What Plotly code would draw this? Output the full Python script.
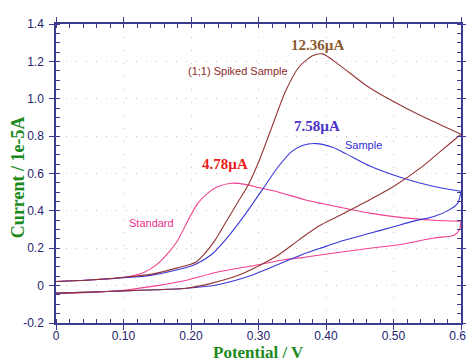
import plotly.graph_objects as go

# ---- data (potential in V, current in 1e-5 A) ----
spiked_fwd_x = [0, 0.05, 0.10, 0.14, 0.18, 0.207, 0.22, 0.236, 0.25, 0.27, 0.285, 0.30, 0.32, 0.34, 0.36, 0.38, 0.395, 0.42, 0.46, 0.50, 0.54, 0.57, 0.60]
spiked_fwd_y = [0.022, 0.03, 0.045, 0.06, 0.095, 0.125, 0.17, 0.245, 0.33, 0.45, 0.54, 0.66, 0.85, 1.04, 1.17, 1.23, 1.24, 1.18, 1.07, 0.985, 0.91, 0.86, 0.81]
spiked_rev_x = [0.60, 0.57, 0.54, 0.50, 0.46, 0.42, 0.39, 0.36, 0.33, 0.30, 0.27, 0.23, 0.19, 0.15, 0.10, 0.05, 0]
spiked_rev_y = [0.81, 0.72, 0.63, 0.53, 0.45, 0.375, 0.32, 0.245, 0.165, 0.105, 0.055, 0.012, -0.015, -0.022, -0.028, -0.035, -0.04]

sample_fwd_x = [0, 0.05, 0.10, 0.14, 0.18, 0.207, 0.23, 0.251, 0.28, 0.305, 0.33, 0.35, 0.365, 0.385, 0.41, 0.43, 0.465, 0.51, 0.56, 0.60]
sample_fwd_y = [0.022, 0.03, 0.042, 0.055, 0.085, 0.115, 0.165, 0.245, 0.38, 0.51, 0.64, 0.72, 0.75, 0.76, 0.74, 0.705, 0.64, 0.58, 0.53, 0.505]
sample_rev_x = [0.60, 0.595, 0.58, 0.56, 0.53, 0.50, 0.465, 0.42, 0.40, 0.365, 0.35, 0.29, 0.24, 0.19, 0.15, 0.10, 0.05, 0]
sample_rev_y = [0.505, 0.44, 0.40, 0.37, 0.345, 0.315, 0.28, 0.235, 0.21, 0.167, 0.145, 0.055, 0.005, -0.015, -0.022, -0.028, -0.035, -0.04]

standard_fwd_x = [0, 0.05, 0.09, 0.11, 0.13, 0.15, 0.165, 0.18, 0.195, 0.21, 0.225, 0.24, 0.26, 0.28, 0.30, 0.33, 0.37, 0.42, 0.465, 0.51, 0.56, 0.60]
standard_fwd_y = [0.022, 0.03, 0.04, 0.05, 0.07, 0.115, 0.17, 0.24, 0.345, 0.44, 0.495, 0.53, 0.548, 0.542, 0.525, 0.50, 0.458, 0.42, 0.388, 0.365, 0.35, 0.345]
standard_rev_x = [0.60, 0.598, 0.59, 0.56, 0.51, 0.465, 0.415, 0.365, 0.34, 0.29, 0.24, 0.19, 0.15, 0.10, 0.05, 0]
standard_rev_y = [0.345, 0.30, 0.27, 0.255, 0.22, 0.20, 0.176, 0.15, 0.14, 0.105, 0.073, 0.026, 0.0, -0.025, -0.037, -0.043]

x_tickvals = [0, 0.1, 0.2, 0.3, 0.4, 0.5, 0.6]
x_ticktext = ["0", "0.10", "0.20", "0.30", "0.40", "0.50", "0.60"]
y_tickvals = [-0.2, 0, 0.2, 0.4, 0.6, 0.8, 1.0, 1.2, 1.4]
y_ticktext = ["-0.2", "0", "0.2", "0.4", "0.6", "0.8", "1.0", "1.2", "1.4"]

BROWN = "#953535"
BLUE = "#3838D8"
PINK = "#F0408F"
NAVY = "#23236E"
AXIS = "#3B3B90"
GREEN = "#1E8A1E"

fig = go.Figure()
for fx, fy, rx, ry, c in [
    (standard_fwd_x, standard_fwd_y, standard_rev_x, standard_rev_y, PINK),
    (sample_fwd_x, sample_fwd_y, sample_rev_x, sample_rev_y, BLUE),
    (spiked_fwd_x, spiked_fwd_y, spiked_rev_x, spiked_rev_y, BROWN),
]:
    fig.add_trace(go.Scatter(x=fx + rx, y=fy + ry, mode="lines",
                             line=dict(color=c, width=1.1, shape="spline", smoothing=0.7),
                             showlegend=False, hoverinfo="skip"))

def axis_common():
    return dict(
        showline=True, linecolor=AXIS, linewidth=1.5, mirror="ticks",
        ticks="outside", ticklen=5, tickcolor=AXIS, tickwidth=1,
        showgrid=True, gridcolor="#C4C4C4", gridwidth=1, griddash="1px,12px",
        zeroline=False,
        tickfont=dict(family="Arial, Liberation Sans, sans-serif", size=12, color=NAVY),
    )

xa = axis_common()
xa.update(range=[0, 0.6], tickmode="array", tickvals=x_tickvals, ticktext=x_ticktext,
          ticklabelstandoff=-4,
          minor=dict(ticks="inside", dtick=0.02, ticklen=4, tickcolor=AXIS, showgrid=False))
ya = axis_common()
ya.update(range=[-0.2, 1.4], tickmode="array", tickvals=y_tickvals, ticktext=y_ticktext,
          ticklabelstandoff=3,
          minor=dict(ticks="inside", dtick=0.05, ticklen=4, tickcolor=AXIS, showgrid=False))
ya["griddash"] = "1px,9px"

serif = "Liberation Serif, Times New Roman, serif"
sans = "Arial, Liberation Sans, sans-serif"

annotations = [
    dict(x=0.387, y=1.285, text="<b>12.36µA</b>", font=dict(family=serif, size=15, color="#8A5A2E")),
    dict(x=0.27, y=1.15, text="(1;1) Spiked Sample", font=dict(family=sans, size=11, color="#8B2A2A")),
    dict(x=0.386, y=0.855, text="<b>7.58µA</b>", font=dict(family=serif, size=15, color="#4A32C8")),
    dict(x=0.455, y=0.75, text="Sample", font=dict(family=sans, size=11, color="#3030D0")),
    dict(x=0.251, y=0.65, text="<b>4.78µA</b>", font=dict(family=serif, size=15, color="#EE1C1C")),
    dict(x=0.142, y=0.335, text="Standard", font=dict(family=sans, size=11, color="#E8308A")),
]
for a in annotations:
    a.update(xref="x", yref="y", showarrow=False, xanchor="center", yanchor="middle")

annotations.append(dict(xref="paper", yref="paper", x=-0.092, y=0.487, text="<b>Current / 1e-5A</b>",
                        textangle=-90, showarrow=False, xanchor="center", yanchor="middle",
                        font=dict(family=serif, size=18, color=GREEN)))
annotations.append(dict(xref="paper", yref="paper", x=0.5, y=-0.098, text="<b>Potential / V</b>",
                        showarrow=False, xanchor="center", yanchor="middle",
                        font=dict(family=serif, size=17, color=GREEN)))

W, H = 474, 361
L, R, T, B = 48, 14, 9, 46
pw, ph = W - L - R, H - T - B

def px_x(p):
    return (p - L) / pw

def px_y(p):
    return (H - B - p) / ph

STRIP = "#D3E2EE"
fig.update_layout(
    width=W, height=H,
    margin=dict(l=L, r=R, t=T, b=B),
    paper_bgcolor="white", plot_bgcolor="white",
    xaxis=xa, yaxis=ya,
    annotations=annotations,
    shapes=[
        dict(type="rect", xref="paper", yref="paper", layer="above",
             x0=px_x(-2), x1=px_x(476), y0=px_y(363), y1=px_y(358),
             fillcolor=STRIP, line=dict(width=0)),
    ],
)

fig.write_html("out.html")
